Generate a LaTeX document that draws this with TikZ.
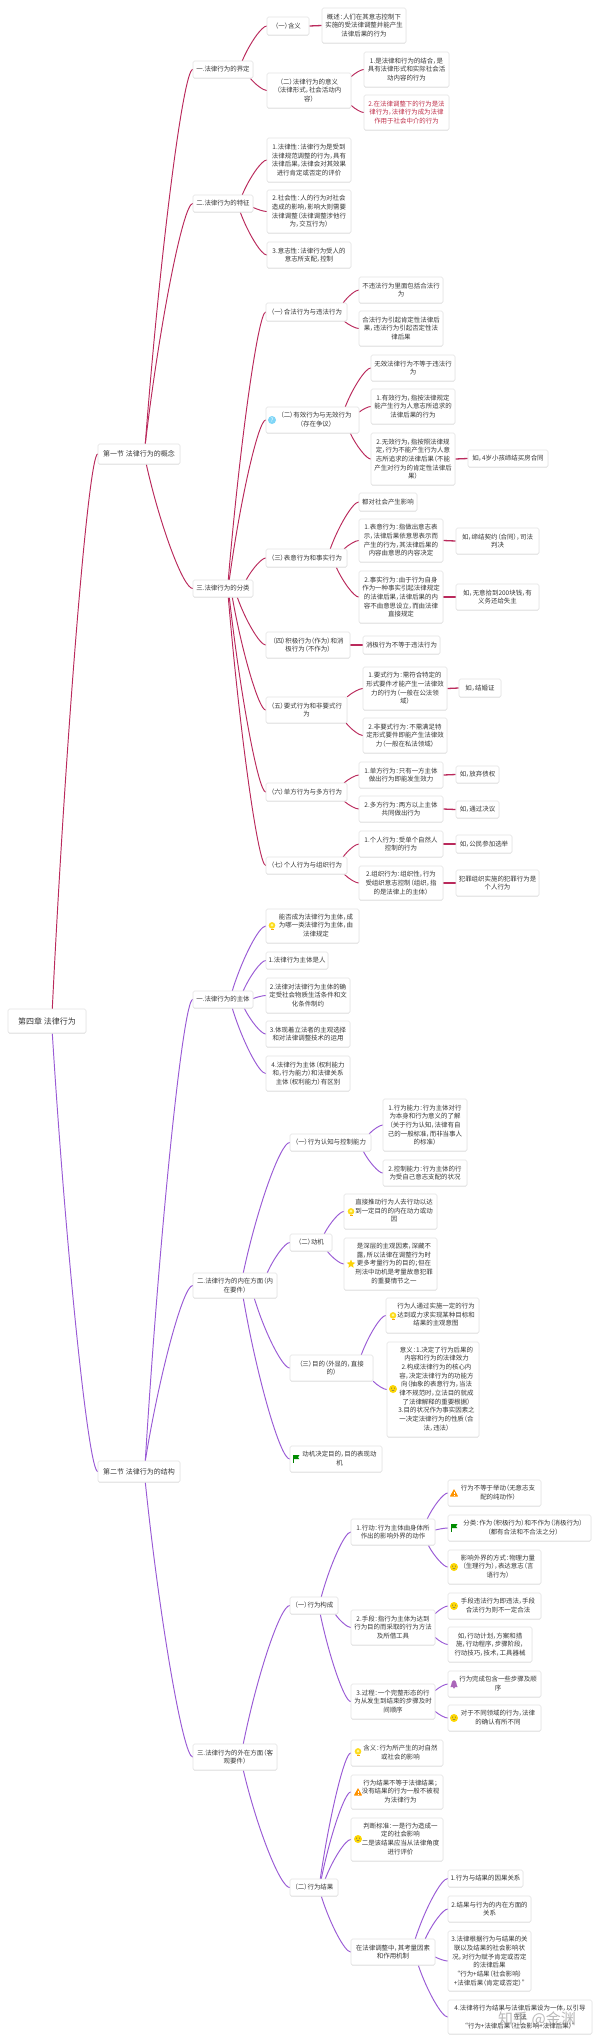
\documentclass[tikz,border=0pt]{standalone}
\usepackage{fontspec}
\setmainfont[RawFeature=+palt]{Noto Sans CJK SC}
\usetikzlibrary{calc,backgrounds,shadows,shapes.geometric}
\definecolor{crim}{HTML}{BA2A5C}
\definecolor{purp}{HTML}{9A5BD6}
\definecolor{redtx}{HTML}{C0304A}
\definecolor{boxln}{HTML}{E4E4E4}
\colorlet{lc}{crim}
\tikzset{
  box/.style={draw=boxln,line width=.6pt,fill=white,rounded corners=1.5pt,inner sep=0pt,align=center,
    text=black!78,font=\fontsize{6.45}{8.67}\selectfont,
    drop shadow={shadow xshift=0pt,shadow yshift=-.7pt,fill=black!14,opacity=1}},
  link/.style={draw=lc,line width=.95pt,line cap=round},
  straightlink/.style={draw=lc,line width=1.3pt},
}
\newcommand{\nd}[7][]{\node[box,minimum width={(#5-#3)*1pt},minimum height={(#6-#4)*1pt},#1] (#2) at ({(#3+#5)/2},{(#4+#6)/2}) {#7};}
\newcommand{\ic}[1]{\hspace*{7pt}\begin{tabular}{@{}c@{}}#1\end{tabular}}
\newcommand{\curv}[2]{\coordinate (S) at #1; \coordinate (E) at (#2.west); \coordinate (M) at ($(S)!.8!(E)$); \coordinate (N) at ($(S)!.5!(E)$); \coordinate (P) at ($(S)!.3!(E)$);
  \draw[link] (S) .. controls (P |- N) and (M |- E) .. (E);}
\newcommand{\lk}[3]{\curv{([xshift=#2pt]#1)}{#3}}
\newcommand{\lkr}[3]{\curv{([yshift=#2pt]#1.east)}{#3}}
\newcommand{\st}[2]{\draw[straightlink] (#1.east) -- (#2.west);}
\newcommand{\ibulb}[2]{\begin{scope}[shift={(#1,#2)}]\fill[yellow!75!orange!90] (0,-.6) circle[radius=3.3pt];\fill[white!60!yellow] (0,-.8) circle[radius=1.5pt];\fill[orange!70!yellow] (-1.5,2.6) rectangle (1.5,4);\end{scope}}
\newcommand{\iq}[2]{\node[circle,fill=cyan!50!white,minimum size=8pt,inner sep=0pt,text=white,font=\fontsize{6}{6}\selectfont] (qm) at (#1,#2) {?};}
\newcommand{\istar}[2]{\node[star,star points=5,star point ratio=2.2,fill=yellow!70!orange,minimum size=9pt,inner sep=0pt] (st#1) at (#1,#2) {};}
\newcommand{\iwarn}[2]{\begin{scope}[shift={(#1,#2)}]\fill[orange!85!yellow,rounded corners=.5pt] (-4.2,3.5) -- (0,-4) -- (4.2,3.5) -- cycle;\draw[white,line width=.7pt] (0,-1.2) -- (0,1.2) (0,2) -- (0,2.7);\end{scope}}
\newcommand{\iflag}[2]{\begin{scope}[shift={(#1,#2)}]\draw[green!50!black,line width=.8pt] (-3,-3.8) -- (-3,3.8);\fill[green!55!black] (-3,-3.8) -- (3.4,-3.8) -- (2,-1.8) -- (3.4,.2) -- (-3,.2) -- cycle;\end{scope}}
\newcommand{\ismile}[2]{\begin{scope}[shift={(#1,#2)}]\fill[yellow!75!orange] (0,0) circle[radius=4pt];\fill[black!65] (-1.5,-.8) circle[radius=.5pt] (1.5,-.8) circle[radius=.5pt];\draw[black!60,line width=.4pt] (-1.4,1) .. controls (-.5,2) and (.5,2) .. (1.4,1);\end{scope}}
\newcommand{\ibell}[2]{\begin{scope}[shift={(#1,#2)}]\fill[blue!40!purple!60!white] (-3.6,3) .. controls (-2.4,2) and (-2.8,-3.8) .. (0,-3.8) .. controls (2.8,-3.8) and (2.4,2) .. (3.6,3) -- cycle;\fill[blue!40!purple!60!white] (0,3.6) circle[radius=1pt];\end{scope}}
\begin{document}
\begin{tikzpicture}[x=1pt,y=-1pt]
\path[use as bounding box] (0,0) rectangle (600,2043);
% ---- nodes
\nd[font=\fontsize{8}{10}\selectfont]{root}{8}{1009}{86}{1033}{第四章 法律行为}
\nd[font=\fontsize{7}{9}\selectfont]{s1}{98}{444}{180}{464}{第一节 法律行为的概念}
\nd{a1}{193}{61}{253}{78}{一.法律行为的界定}
\nd{a11}{267}{17}{309}{35}{（一）含义}
\nd{a111}{322}{8}{406}{43}{概述：人们在其意志控制下\\实施的受法律调整并能产生\\法律后果的行为}
\nd{a12}{267}{73}{351}{108}{（二）法律行为的意义\\（法律形式，社会活动内\\容）}
\nd{a121}{364}{52}{449}{87}{1.是法律和行为的结合，是\\具有法律形式和实际社会活\\动内容的行为}
\nd[text=redtx]{a122}{364}{95}{449}{130}{2.在法律调整下的行为是法\\律行为，法律行为成为法律\\作用于社会中介的行为}
\nd{a2}{193}{195}{253}{212}{二.法律行为的特征}
\nd{a21}{267}{138}{351}{182}{1.法律性：法律行为是受到\\法律规范调整的行为，具有\\法律后果，法律会对其效果\\进行肯定或否定的评价}
\nd{a22}{267}{190}{351}{233}{2.社会性：人的行为对社会\\造成的影响，影响大则需要\\法律调整（法律调整涉他行\\为，交互行为）}
\nd{a23}{267}{242}{351}{268}{3.意志性：法律行为受人的\\意志所支配，控制}
\nd{a3}{193}{580}{253}{597}{三.法律行为的分类}
\nd{b1}{266}{303}{347}{321}{（一）合法行为与违法行为}
\nd{b11}{359}{277}{443}{303}{不违法行为里面包括合法行\\为}
\nd{b12}{359}{311}{443}{346}{合法行为引起肯定性法律后\\果，违法行为引起否定性法\\律后果}
\nd{b2}{266}{407}{359}{433}{\ic{（二）有效行为与无效行为\\（存在争议）}}
\nd{b21}{371}{355}{455}{381}{无效法律行为不等于违法行\\为}
\nd{b22}{371}{389}{455}{424}{1.有效行为，指按法律规定\\能产生行为人意志所追求的\\法律后果的行为}
\nd{b23}{371}{433}{455}{485}{2.无效行为，指按照法律规\\定，行为不能产生行为人意\\志所追求的法律后果（不能\\产生对行为的肯定性法律后\\果）}
\nd{b231}{468}{450}{548}{467}{如，4岁小孩缔结买房合同}
\nd{b3}{266}{549}{347}{567}{（三）表意行为和事实行为}
\nd{b31}{359}{493}{417}{511}{都对社会产生影响}
\nd{b32}{359}{519}{443}{562}{1.表意行为：指做出意志表\\示，法律后果依意思表示而\\产生的行为，其法律后果的\\内容由意思的内容决定}
\nd{b321}{456}{528}{539}{554}{如，缔结契约（合同），司法\\判决}
\nd{b33}{359}{571}{443}{623}{2.事实行为：由于行为自身\\作为一种事实引起法律规定\\的法律后果，法律后果的内\\容不由意思设立，而由法律\\直接规定}
\nd{b331}{456}{584}{539}{610}{如，无意拾到200块钱，有\\义务还给失主}
\nd{b4}{266}{632}{350}{658}{（四）积极行为（作为）和消\\极行为（不作为）}
\nd{b41}{363}{636}{440}{654}{消极行为不等于违法行为}
\nd{b5}{266}{697}{347}{723}{（五）要式行为和非要式行\\为}
\nd{b51}{363}{667}{447}{710}{1.要式行为：需符合特定的\\形式要件才能产生一法律效\\力的行为（一般在公法领\\域）}
\nd{b511}{459}{679}{501}{697}{如，结婚证}
\nd{b52}{363}{718}{447}{753}{2.非要式行为：不需满足特\\定形式要件即能产生法律效\\力（一般在私法领域）}
\nd{b6}{266}{783}{347}{801}{（六）单方行为与多方行为}
\nd{b61}{359}{762}{443}{788}{1.单方行为：只有一方主体\\做出行为即能发生效力}
\nd{b611}{456}{766}{499}{783}{如，放弃债权}
\nd{b62}{359}{796}{443}{822}{2.多方行为：两方以上主体\\共同做出行为}
\nd{b621}{456}{801}{499}{818}{如，通过决议}
\nd{b7}{266}{857}{347}{874}{（七）个人行为与组织行为}
\nd{b71}{359}{831}{443}{857}{1.个人行为：受单个自然人\\控制的行为}
\nd{b711}{456}{835}{512}{853}{如，公民参加选举}
\nd{b72}{359}{866}{443}{900}{2.组织行为：组织性，行为\\受组织意志控制（组织，指\\的是法律上的主体）}
\nd{b721}{456}{870}{539}{896}{犯罪组织实施的犯罪行为是\\个人行为}
\nd[font=\fontsize{7}{9}\selectfont]{s2}{98}{1461}{180}{1482}{第二节 法律行为的结构}
\nd{c1}{193}{991}{253}{1008}{一.法律行为的主体}
\nd{c11}{266}{909}{359}{943}{\ic{能否成为法律行为主体，成\\为哪一类法律行为主体，由\\法律规定}}
\nd{c12}{266}{952}{328}{969}{1.法律行为主体是人}
\nd{c13}{266}{978}{350}{1013}{2.法律对法律行为主体的确\\定受社会物质生活条件和文\\化条件制约}
\nd{c14}{266}{1021}{350}{1047}{3.体现着立法者的主观选择\\和对法律调整技术的运用}
\nd{c15}{266}{1056}{350}{1091}{4.法律行为主体（权利能力\\和，行为能力）和法律关系\\主体（权利能力）有区别}
\nd{c2}{193}{1273}{277}{1298}{二.法律行为的内在方面（内\\在要件）}
\nd{d1}{290}{1134}{371}{1151}{（一）行为认知与控制能力}
\nd{d11}{383}{1099}{467}{1151}{1.行为能力：行为主体对行\\为本身和行为意义的了解\\（关于行为认知，法律有自\\己的一般标准，而非当事人\\的标准）}
\nd{d12}{383}{1160}{467}{1186}{2.控制能力：行为主体的行\\为受自己意志支配的状况}
\nd{d2}{290}{1234}{332}{1251}{（二）动机}
\nd{d21}{344}{1194}{437}{1229}{\ic{直接推动行为人去行动以达\\到一定目的的内在动力或动\\因}}
\nd{d22}{344}{1238}{437}{1290}{\ic{是深层的主观因素，深藏不\\露，所以法律在调整行为时\\更多考量行为的目的；但在\\刑法中动机是考量故意犯罪\\的重要情节之一}}
\nd{d3}{290}{1355}{373}{1381}{（三）目的（外显的，直接\\的）}
\nd{d31}{386}{1298}{479}{1333}{\ic{行为人通过实施一定的行为\\达到或力求实现某种目标和\\结果的主观意图}}
\nd{d32}{387}{1342}{479}{1437}{\ic{意义：1.决定了行为后果的\\内容和行为的法律效力\\2.构成法律行为的核心内\\容，决定法律行为的功能方\\向（抽象的表意行为，当法\\律不规范时，立法目的就成\\了法律解释的重要根据）\\3.目的状况作为事实因素之\\一决定法律行为的性质（合\\法，违法）}}
\nd{d4}{290}{1446}{382}{1472}{\ic{动机决定目的，目的表现动\\机}}
\nd{c3}{193}{1744}{277}{1770}{三.法律行为的外在方面（客\\观要件）}
\nd{e1}{290}{1597}{338}{1614}{（一）行为构成}
\nd{e11}{351}{1519}{435}{1545}{1.行动：行为主体由身体所\\作出的影响外界的动作}
\nd{e111}{448}{1480}{541}{1506}{\ic{行为不等于举动（无意志支\\配的纯动作）}}
\nd{e112}{448}{1515}{591}{1541}{\ic{分类：作为（积极行为）和不作为（消极行为）\\（都有合法和不合法之分）}}
\nd{e113}{448}{1550}{541}{1584}{\ic{影响外界的方式：物理力量\\（生理行为），表达意志（言\\语行为）}}
\nd{e12}{351}{1610}{435}{1645}{2.手段：指行为主体为达到\\行为目的而采取的行为方法\\及所借工具}
\nd{e121}{448}{1593}{541}{1619}{\ic{手段违法行为即违法，手段\\合法行为则不一定合法}}
\nd{e122}{448}{1627}{532}{1662}{如，行动计划，方案和措\\施，行动程序，步骤阶段，\\行动技巧，技术，工具器械}
\nd{e13}{351}{1684}{435}{1719}{3.过程：一个完整形态的行\\为从发生到结束的步骤及时\\间顺序}
\nd{e131}{448}{1671}{541}{1697}{\ic{行为完成包含一些步骤及顺\\序}}
\nd{e132}{448}{1705}{541}{1731}{\ic{对于不同领域的行为，法律\\的确认有所不同}}
\nd{e2}{290}{1879}{338}{1896}{（二）行为结果}
\nd{e21}{351}{1740}{443}{1766}{\ic{含义：行为所产生的对自然\\或社会的影响}}
\nd{e22}{351}{1775}{443}{1809}{\ic{行为结果不等于法律结果；\\没有结果的行为一般不被视\\为法律行为}}
\nd{e23}{351}{1818}{443}{1861}{\ic{判断标准：一是行为造成一\\定的社会影响\\二是该结果应当从法律角度\\进行评价}}
\nd{e24}{351}{1939}{435}{1965}{在法律调整中，其考量因素\\和作用机制}
\nd{e241}{448}{1870}{523}{1887}{1.行为与结果的因果关系}
\nd{e242}{448}{1896}{531}{1922}{2.结果与行为的内在方面的\\关系}
\nd{e243}{448}{1931}{531}{1991}{3.法律根据行为与结果的关\\联以及结果的社会影响状\\况，对行为赋予肯定或否定\\的法律后果\\“行为+结果（社会影响）\\+法律后果（肯定或否定）”}
\nd{e244}{448}{2000}{592}{2034}{4.法律将行为结果与法律后果设为一体，以引导\\守法\\“行为+法律后果（社会影响+法律后果）”}
% ---- icons
\iq{272}{420}
\ibulb{272}{926}
\ibulb{351}{1212}
\istar{351}{1264}
\ibulb{393}{1316}
\ismile{393}{1389}
\iflag{296}{1459}
\iwarn{454}{1493}
\iflag{454}{1528}
\ismile{454}{1567}
\ismile{454}{1606}
\ibell{454}{1684}
\ismile{454}{1718}
\ibulb{358}{1752}
\iwarn{358}{1792}
\ismile{358}{1839}
\node[text=black!50,opacity=.55,font=\fontsize{15}{15}\selectfont,inner sep=0pt] (wm) at (537,2019) {知乎 @金渊};
% ---- connectors
\begin{scope}[on background layer]
\fill[white] (0,0) rectangle (600,2043);
\colorlet{lc}{crim}
\lk{root.north east}{-34}{s1}
\lk{s1.north east}{-35}{a1}
\lk{s1.north east}{-35}{a2}
\lk{s1.south east}{-34}{a3}
\lk{a1.north east}{-11}{a11}
\lk{a1.south east}{-3}{a12}
\st{a11}{a111}
\lkr{a12}{14}{a121}
\lkr{a12}{-15}{a122}
\lk{a2.north east}{-11}{a21}
\lkr{a2}{-4}{a22}
\lk{a2.south east}{-13}{a23}
\lk{a3.north east}{-25}{b1}
\lk{a3.north east}{-24}{b2}
\lk{a3.north east}{-7}{b3}
\lk{a3.south east}{-16}{b4}
\lk{a3.south east}{-21}{b5}
\lk{a3.south east}{-24}{b6}
\lk{a3.south east}{-25}{b7}
\lk{b1.north east}{-4}{b11}
\lk{b1.south east}{-3}{b12}
\lk{b2.north east}{-14}{b21}
\lkr{b2}{8}{b22}
\lk{b2.south east}{-9}{b23}
\st{b23}{b231}
\lk{b3.north east}{-17}{b31}
\lk{b3.north east}{-3}{b32}
\lk{b3.south east}{-11}{b33}
\st{b32}{b321}
\st{b33}{b331}
\st{b4}{b41}
\lk{b5.north east}{0}{b51}
\lk{b5.south east}{-1}{b52}
\st{b51}{b511}
\lk{b6.north east}{-3}{b61}
\lk{b6.south east}{-3}{b62}
\st{b61}{b611}
\st{b62}{b621}
\lk{b7.north east}{-4}{b71}
\lk{b7.south east}{-3}{b72}
\st{b71}{b711}
\st{b72}{b721}
\colorlet{lc}{purp}
\lk{root.south east}{-34}{s2}
\lk{s2.north east}{-35}{c1}
\lk{s2.north east}{-35}{c2}
\lk{s2.south east}{-35}{c3}
\lk{c1.north east}{-21}{c11}
\lk{c1.north east}{-10}{c12}
\lkr{c1}{1}{c13}
\lk{c1.south east}{-9}{c14}
\lk{c1.south east}{-21}{c15}
\lk{c2.north east}{-34}{d1}
\lk{c2.north east}{-10}{d2}
\lk{c2.south east}{-23}{d3}
\lk{c2.south east}{-34}{d4}
\lk{d1.north east}{-2}{d11}
\lk{d1.south east}{-8}{d12}
\lk{d2.north east}{-8}{d21}
\lk{d2.south east}{-5}{d22}
\lk{d3.north east}{-12}{d31}
\lk{d3.south east}{0}{d32}
\lk{c3.north east}{-34}{e1}
\lk{c3.south east}{-34}{e2}
\lk{e1.north east}{-17}{e11}
\lk{e1.south east}{-3}{e12}
\lk{e1.south east}{-18}{e13}
\lk{e11.north east}{-8}{e111}
\lkr{e11}{2}{e112}
\lk{e11.south east}{-7}{e113}
\lkr{e12}{14}{e121}
\lkr{e12}{-10}{e122}
\lkr{e13}{11}{e131}
\lkr{e13}{-10}{e132}
\lk{e2.north east}{-18}{e21}
\lk{e2.north east}{-17}{e22}
\lk{e2.north east}{-13}{e23}
\lk{e2.south east}{-17}{e24}
\lk{e24.north east}{-20}{e241}
\lk{e24.north east}{-10}{e242}
\lkr{e24}{-5}{e243}
\lk{e24.south east}{-17}{e244}
\end{scope}
\end{tikzpicture}
\end{document}
